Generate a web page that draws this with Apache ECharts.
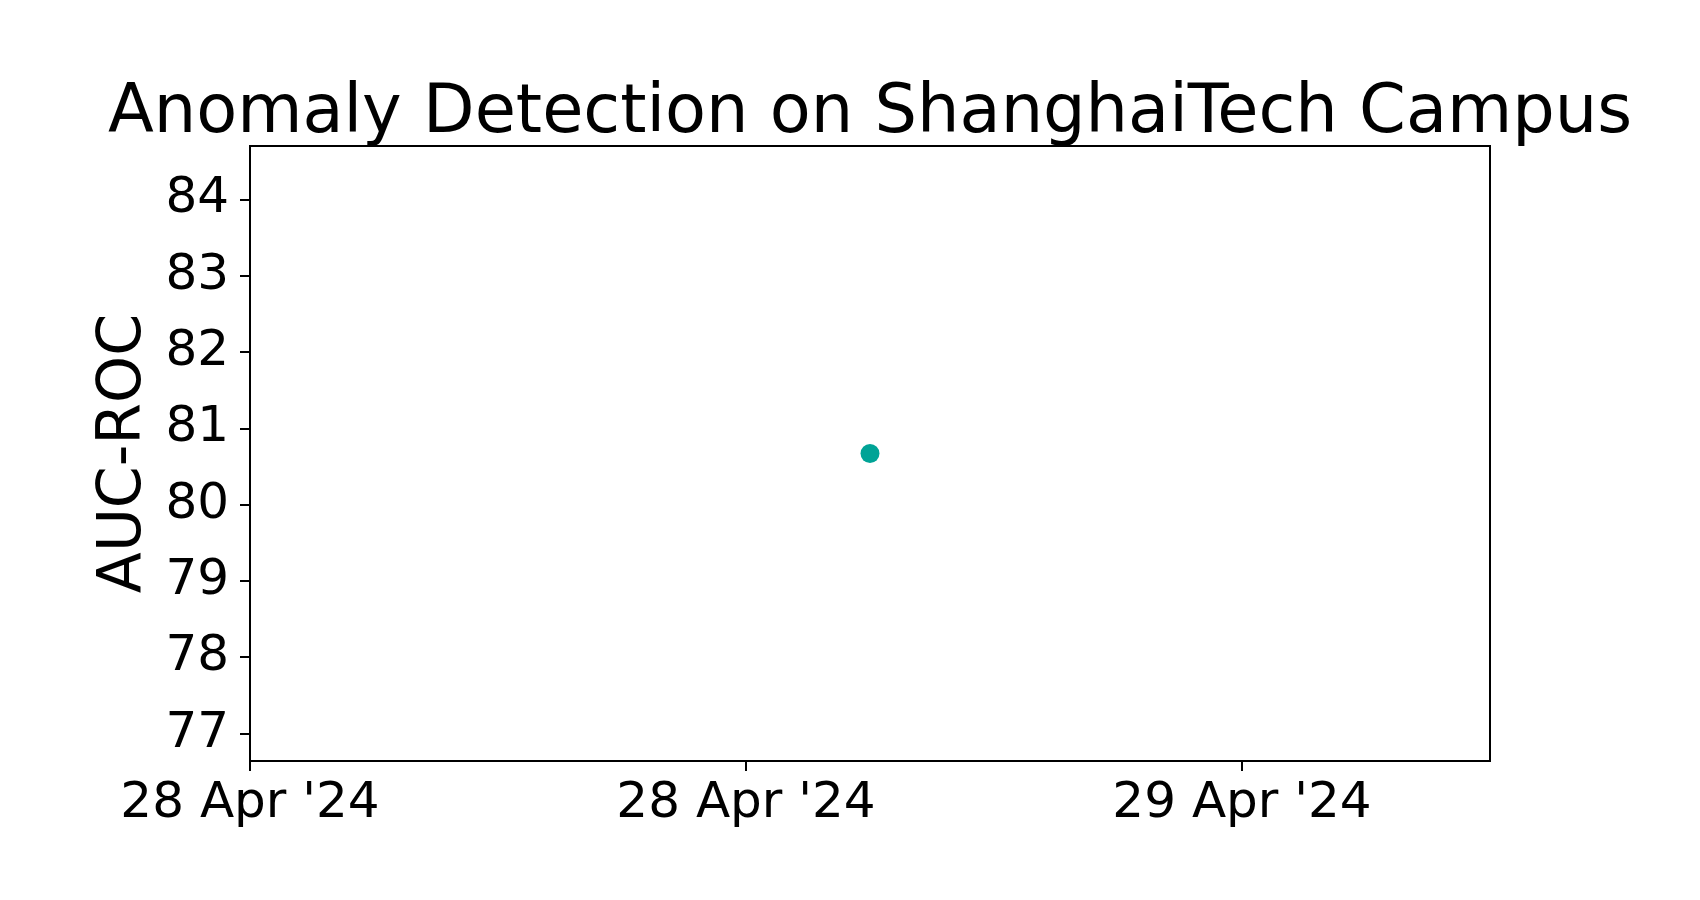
<!DOCTYPE html>
<html>
<head>
<meta charset="utf-8">
<script src="https://cdn.jsdelivr.net/npm/echarts@6/dist/echarts.min.js"></script>
<style>
  html, body { margin: 0; padding: 0; background: #fff; }
  #chart { width: 1700px; height: 900px; }
</style>
</head>
<body>
<div id="chart"></div>
<script>
// one evaluation run so far
const runDates = ['2024-04-28T15:00:00Z'];
const aucRoc = [80.67];

// axis ticks as drawn in the original
const xTicks = ['2024-04-28T00:00:00Z', '2024-04-28T12:00:00Z', '2024-04-29T00:00:00Z'];
const xTickLabels = ["28 Apr '24", "28 Apr '24", "29 Apr '24"];
const yTicks = [77, 78, 79, 80, 81, 82, 83, 84];

const xRange = ['2024-04-28T00:00:00Z', '2024-04-29T06:00:00Z'];
const yRange = [76.64, 84.70];

const FONT = 'DejaVu Sans';
const INK = '#000000';
const TEAL = '#00a396';

const ms = (s) => new Date(s).getTime();
const xTickMs = xTicks.map(ms);

const chart = echarts.init(document.getElementById('chart'), null, { renderer: 'canvas' });

chart.setOption({
  backgroundColor: '#ffffff',
  animation: false,
  textStyle: { fontFamily: FONT, color: INK },
  title: {
    text: 'Anomaly Detection on ShanghaiTech Campus',
    left: 865, top: 76, textAlign: 'center',
    textStyle: { fontFamily: FONT, fontSize: 67, fontWeight: 'normal', color: INK },
  },
  grid: {
    left: 250, right: 210, top: 146, bottom: 139,
    show: true, borderColor: INK, borderWidth: 2, backgroundColor: 'transparent',
  },
  xAxis: {
    type: 'value',
    min: ms(xRange[0]), max: ms(xRange[1]),
    axisLine: { show: true, lineStyle: { color: INK, width: 2 } },
    axisTick: { show: true, length: 10, inside: false, customValues: xTickMs,
                lineStyle: { color: INK, width: 2 } },
    axisLabel: {
      show: true, customValues: xTickMs, margin: 18,
      fontFamily: FONT, fontSize: 50, color: INK,
      formatter: (v) => xTickLabels[xTickMs.indexOf(v)] ?? '',
    },
    splitLine: { show: false },
  },
  yAxis: {
    type: 'value',
    min: yRange[0], max: yRange[1],
    name: 'AUC-ROC', nameLocation: 'middle', nameGap: 93,
    nameTextStyle: { fontFamily: FONT, fontSize: 60, color: INK },
    axisLine: { show: true, lineStyle: { color: INK, width: 2 } },
    axisTick: { show: true, length: 10, inside: false, customValues: yTicks,
                lineStyle: { color: INK, width: 2 } },
    axisLabel: {
      show: true, customValues: yTicks, margin: 21,
      fontFamily: FONT, fontSize: 50, color: INK,
    },
    splitLine: { show: false },
  },
  series: [{
    type: 'scatter',
    data: runDates.map((d, i) => [ms(d), aucRoc[i]]),
    symbol: 'circle', symbolSize: 19,
    itemStyle: { color: TEAL, opacity: 1 },
  }],
});
</script>
</body>
</html>
